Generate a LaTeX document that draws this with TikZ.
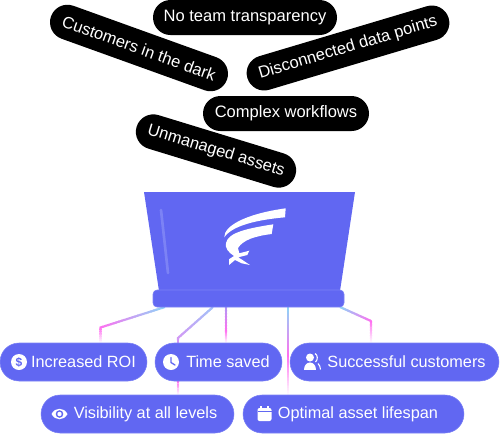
\documentclass[tikz,border=0pt]{standalone}
\usepackage{fontspec}
\setmainfont{Liberation Sans}
\usetikzlibrary{arrows.meta, positioning, shapes.misc, calc, backgrounds}
\definecolor{pillblue}{HTML}{6167F2}
\definecolor{rimblue}{HTML}{7C82F5}
\definecolor{linksky}{HTML}{8FD3F7}
\definecolor{linkpink}{HTML}{FF6FF0}
\tikzset{
    blackpill/.style={
        rounded rectangle,
        fill=black,
        text=white,
        minimum height=35*0.75pt,
        inner sep=0pt,
        font=\fontsize{12.4}{15}\selectfont
    },
    bluepill/.style={
        rounded rectangle,
        fill=pillblue,
        draw=rimblue,
        line width=0.4pt,
        text=white,
        minimum height=38*0.75pt,
        inner sep=0pt,
        font=\fontsize{12.2}{15}\selectfont
    },
    wide/.style={minimum width=#1*0.75pt},
    icon/.style={fill=white, draw=none},
    iconcut/.style={fill=pillblue, draw=none}
}
% short pieces, colour running from #3 to #4
\newcommand{\fadelink}[4]{
    \foreach \n in {0,...,23}{
        \pgfmathsetmacro{\mixA}{100-\n*100/24}
        \draw[line width=1.6pt, #3!\mixA!#4] ($#1!\n/24!#2$) -- ($#1!{(\n+1.3)/24}!#2$);
    }
}
\begin{document}
\begin{tikzpicture}[x=0.75pt, y=-0.75pt]
\useasboundingbox (0,0) rectangle (500,433);

% worries falling in
\node[blackpill, wide=184] (team) at (245,17.5) {No team transparency};
\node[blackpill, wide=187, rotate=-19.8] (dark) at (139,48) {Customers in the dark};
\node[blackpill, wide=210, rotate=16.6] (points) at (348,48) {Disconnected data points};
\node[blackpill, wide=166] (flows) at (286,113.5) {Complex workflows};
\node[blackpill, wide=166, rotate=-17] (assets) at (216,151) {Unmanaged assets};

% laptop
\fill[pillblue] (144,192) -- (355,192) -- (340,291) -- (159,291) -- cycle;
\draw[rimblue, line width=2pt, line cap=round] (161,210) -- (168,273);
\node[draw=rimblue, line width=0.4pt, fill=pillblue, rounded corners=3pt, minimum width=191*0.75pt, minimum height=17*0.75pt, inner sep=0pt] (base) at (248.5,298.5) {};

% logo
\fill[white] (285.7,208.3) -- (285,217.3) .. controls (255,220) and (232,226) .. (224.3,237.3)
    .. controls (224,226) and (245,214) .. (285.7,208.3) -- cycle;
\fill[white] (273.3,224.3) -- (271.7,234) .. controls (255,236) and (243,240) .. (238,248)
    -- (239.3,253.3) -- (249.3,250.7) -- (247.3,255) -- (238.3,257.3) -- (250,265)
    -- (241.7,263.3) -- (235,260) -- (229,265) -- (229,259.3) -- (234,256)
    .. controls (228,252) and (225,248) .. (226,243) .. controls (228,232) and (250,228) .. (273.3,224.3) -- cycle;

% bottom row
\node[bluepill, wide=147] (roi) at (73.5,362) {\hspace*{20\dimexpr0.75pt\relax}Increased ROI};
\node[bluepill, wide=127] (saved) at (218.5,362) {\hspace*{19\dimexpr0.75pt\relax}Time saved};
\node[bluepill, wide=209] (customers) at (394.5,362) {\hspace*{24\dimexpr0.75pt\relax}Successful customers};
\node[bluepill, wide=193] (levels) at (137.5,414) {\hspace*{16\dimexpr0.75pt\relax}Visibility at all levels};
\node[bluepill, wide=221] (lifespan) at (353.5,414) {\hspace*{9\dimexpr0.75pt\relax}Optimal asset lifespan};

% links
\coordinate (r1) at (165,307);
\coordinate (b1) at (100.5,327.5);
\coordinate (r2) at (213,307);
\coordinate (b2) at (178,338);
\coordinate (r3) at (226,307);
\coordinate (b3) at (226,331);
\coordinate (r4) at (288,307);
\coordinate (b4) at (288,355);
\coordinate (r5) at (340,307);
\coordinate (b5) at (371,321);
\begin{scope}[on background layer]
    \fadelink{(r1)}{(b1)}{linksky}{linkpink}
    \fadelink{(b1)}{(b1 |- roi.north)}{linkpink}{white}
    \fadelink{(r2)}{(b2)}{linksky}{linkpink!60!pillblue!70!white}
    \fadelink{(b2)}{(b2 |- roi.south)}{linkpink!60!pillblue!70!white}{linkpink}
    \fadelink{(b2 |- roi.south)}{(b2 |- levels.north)}{linkpink}{white}
    \fadelink{(r3)}{(b3)}{linksky!50!linkpink!80!pillblue}{linkpink}
    \fadelink{(b3)}{(b3 |- saved.north)}{linkpink}{white}
    \fadelink{(r4)}{(b4)}{linksky}{linkpink}
    \fadelink{(b4)}{(b4 |- lifespan.north)}{linkpink}{white}
    \fadelink{(r5)}{(b5)}{linksky}{linkpink}
    \fadelink{(b5)}{(b5 |- customers.north)}{linkpink}{white}
\end{scope}

% dollar
\fill[icon] (19,362) circle (8);
\node[text=pillblue, inner sep=0pt, font=\fontsize{9}{9}\selectfont\bfseries] (dollar) at (19,362) {\$};
% clock
\fill[icon] (171,362) circle (8);
\draw[pillblue, line width=1pt, line cap=round] (171,357.5) -- (171,362.5) -- (175,365);
% eye
\fill[icon] (51.5,414) .. controls (55,407) and (64,407) .. (67.5,414) .. controls (64,421) and (55,421) .. (51.5,414) -- cycle;
\fill[iconcut] (59.5,414) circle (3.8);
\fill[icon] (59.5,414) circle (2.2);
% two people
\fill[icon] (310,357.5) circle (4);
\fill[icon] (304,369.5) .. controls (304,360) and (316,360) .. (316,369.5) -- cycle;
\draw[white, line width=0.8pt] (315,353.5) .. controls (318,355) and (318,360) .. (315.5,362);
\draw[white, line width=0.8pt] (318,363.5) .. controls (319.5,365) and (320.5,367) .. (320.5,369.5);
% calendar
\fill[icon, rounded corners=1.5pt] (257.5,408) rectangle (271.5,421);
\fill[iconcut] (257.5,410.8) rectangle (271.5,411.6);
\draw[white, line width=1pt] (261,406) -- (261,409);
\draw[white, line width=1pt] (268,406) -- (268,409);
\end{tikzpicture}
\end{document}
